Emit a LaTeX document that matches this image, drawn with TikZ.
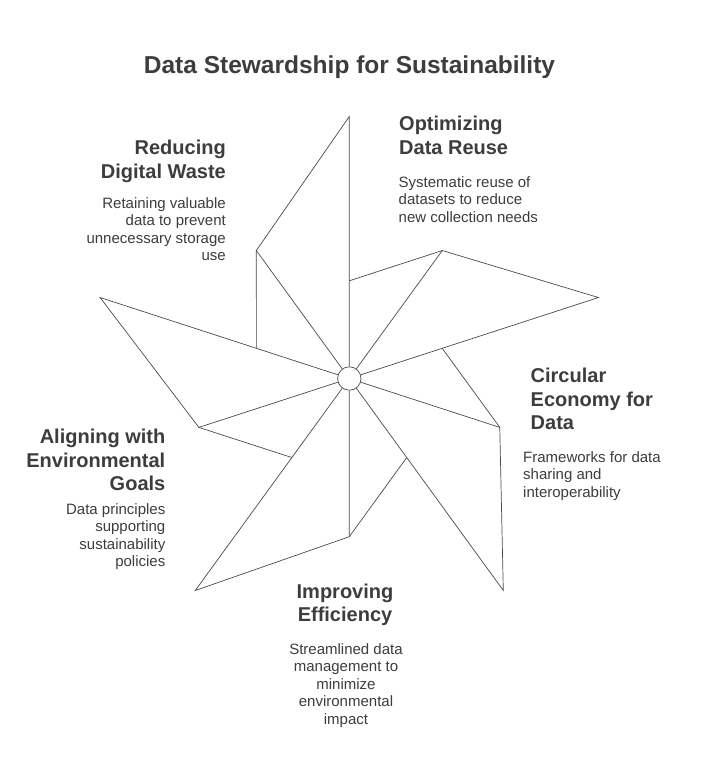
\documentclass[tikz,border=0pt]{standalone}
\usepackage{fontspec}
\setmainfont{Liberation Sans}
\definecolor{ink}{HTML}{3D3D3D}
\definecolor{wire}{HTML}{4A4A4A}
\tikzset{
  blade/.style={draw=wire, line width=0.7pt, line join=miter},
  head/.style={inner sep=0pt, text=ink, font=\bfseries\fontsize{20}{23.5}\selectfont},
  desc/.style={inner sep=0pt, text=ink, font=\fontsize{15}{17.6}\selectfont},
}
\begin{document}
\begin{tikzpicture}[x=1pt,y=-1pt]
		\useasboundingbox[fill=white] (0,0) rectangle (703,781);
		\node[circle, draw=wire, line width=0.7pt, minimum size=23.4pt, inner sep=0pt] (hub) at (349.3,378.5) {};
		\foreach \a [count=\i] in {-90,-18,54,126,198} {
			\path (hub.center) ++(\a:262) coordinate (tip\i);
			\path (hub.center) ++(\a-36:158.2) coordinate (sh\i);
			\path (hub.center) ++(\a-72:97.7) coordinate (fold\i);
			\draw[blade] (hub) -- (tip\i) -- (sh\i) -- (hub);
			\draw[blade] (sh\i) -- (fold\i);
		}
		\node[anchor=base, text=ink, font=\bfseries\fontsize{24.5}{30}\selectfont] (title) at (349.5,74) {Data Stewardship for Sustainability};
		\node[head, anchor=north west, align=left] (reuse) at (399,116) {Optimizing\\Data Reuse};
		\node[desc, anchor=north west, align=left] (reuse-txt) at (398.5,176) {Systematic reuse of\\datasets to reduce\\new collection needs};
		\node[head, anchor=north east, align=right] (waste) at (226,140) {Reducing\\Digital Waste};
		\node[desc, anchor=north east, align=right] (waste-txt) at (226,197) {Retaining valuable\\data to prevent\\unnecessary storage\\use};
		\node[head, anchor=north west, align=left] (circ) at (530.5,368) {Circular\\Economy for\\Data};
		\node[desc, anchor=north west, align=left] (circ-txt) at (523,451) {Frameworks for data\\sharing and\\interoperability};
		\node[head, anchor=north east, align=right] (goals) at (165.5,429) {Aligning with\\Environmental\\Goals};
		\node[desc, anchor=north east, align=right] (goals-txt) at (165.5,503) {Data principles\\supporting\\sustainability\\policies};
		\node[head, anchor=north, align=center] (eff) at (345,583.5) {Improving\\Efficiency};
		\node[desc, anchor=north, align=center] (eff-txt) at (346,643) {Streamlined data\\management to\\minimize\\environmental\\impact};
\end{tikzpicture}
\end{document}
